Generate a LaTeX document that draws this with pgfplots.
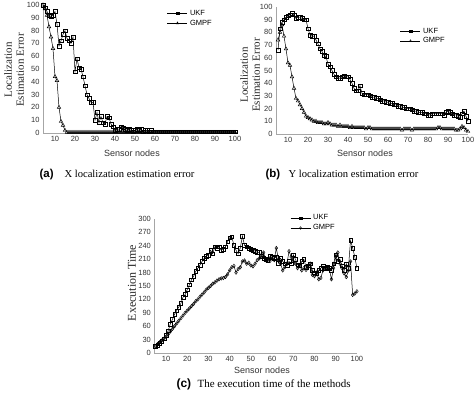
\documentclass[border=0pt]{standalone}
\usepackage{pgfplots}
\pgfplotsset{compat=1.18}
\usepackage{fontspec}
\setmainfont{Liberation Serif}
\setsansfont{Liberation Sans}
\pgfplotsset{
  panel/.style={
    scale only axis, clip=false,
    axis x line*=bottom, axis y line*=left,
    axis line style={black!35, -},
    major tick length=0pt,
    tick label style={font=\sffamily\fontsize{7.5}{8}\selectfont, text=black!80},
    /pgf/number format/assume math mode=true,
    xtick={10,20,...,100},
    legend style={draw=none, fill=none, inner sep=0pt, font=\sffamily\fontsize{7.5}{8}\selectfont, row sep=0pt,
      nodes={inner sep=1.6pt}},
    legend cell align=left,
    legend image code/.code={\path[draw=none, fill=none] (0pt,-3pt) rectangle (21pt,3pt); \draw[#1, mark=none] (0pt,0pt) -- (20pt,0pt); \draw[#1, mark size=1.3pt] plot[only marks] coordinates {(10pt,0pt)};},
  },
  ukf/.style={black, line width=0.5pt, mark=square, mark size=1.8pt, mark options={fill=white, line width=0.45pt}},
  gmpf/.style={black, line width=0.5pt, mark=triangle, mark size=2.1pt, mark options={fill=white, line width=0.45pt}},
  gmpfc/.style={black, line width=0.5pt, mark=diamond, mark size=1.8pt, mark options={fill=white, line width=0.45pt}},
}
\begin{document}
\begin{tikzpicture}[x=1pt,y=1pt]
\path[use as bounding box] (0,0) rectangle (474,395);
% ---------- (a)
\begin{axis}[panel, at={(43pt,262pt)}, anchor=south west, width=192pt, height=128pt,
  xmin=4, xmax=100, ymin=0, ymax=100, ytick={0,10,...,100},
  legend style={at={(0.646,0.975)}, anchor=north west}]
\addplot[ukf] coordinates {(4,100)(5,98)(6,95)(7,92)(8,91)(9,92)(10,95)(11,85)(12,68)(13,72)(14,77)(15,80)(16,74)(17,72)(18,70)(19,75)(20,48)(21,58)(22,51)(23,50)(24,44)(25,37)(26,30)(27,27)(28,24)(29,24)(30,10)(31,16)(32,8)(33,13)(34,8)(35,7)(36,13)(37,12)(38,7)(39,5)(40,2)(41,3)(42,3)(43,5)(44,4)(45,3)(46,2)(47,3)(48,2)(49,1)(50,2)(51,3)(52,2)(53,3)(54,1)(55,2)(56,2)(57,1)(58,2)(59,1)(60,1)(61,1)(62,1)(63,1)(64,1)(65,1)(66,1)(67,1)(68,1)(69,1)(70,1)(71,1)(72,1)(73,1)(74,1)(75,1)(76,1)(77,1)(78,1)(79,1)(80,1)(81,1)(82,1)(83,1)(84,1)(85,1)(86,1)(87,1)(88,1)(89,1)(90,1)(91,1)(92,1)(93,1)(94,1)(95,1)(96,1)(97,1)(98,1)(99,1)(100,1)};
\addlegendentry{UKF}
\addplot[gmpf] coordinates {(4,100)(5,97)(6,92)(7,83)(8,75)(9,66)(10,44)(11,41)(12,20)(13,9)(14,6)(15,2)(16,0.5)(17,0.5)(18,0.5)(19,0.5)(20,0.5)(21,0.5)(22,0.5)(23,0.5)(24,0.5)(25,0.5)(26,0.5)(27,0.5)(28,0.5)(29,0.5)(30,0.5)(31,0.5)(32,0.5)(33,0.5)(34,0.5)(35,0.5)(36,0.5)(37,0.5)(38,0.5)(39,0.5)(40,0.5)(41,0.5)(42,0.5)(43,0.5)(44,0.5)(45,0.5)(46,0.5)(47,0.5)(48,0.5)(49,0.5)(50,0.5)(51,0.5)(52,0.5)(53,0.5)(54,0.5)(55,0.5)(56,0.5)(57,0.5)(58,0.5)(59,0.5)(60,0.5)(61,0.5)(62,0.5)(63,0.5)(64,0.5)(65,0.5)(66,0.5)(67,0.5)(68,0.5)(69,0.5)(70,0.5)(71,0.5)(72,0.5)(73,0.5)(74,0.5)(75,0.5)(76,0.5)(77,0.5)(78,0.5)(79,0.5)(80,0.5)(81,0.5)(82,0.5)(83,0.5)(84,0.5)(85,0.5)(86,0.5)(87,0.5)(88,0.5)(89,0.5)(90,0.5)(91,0.5)(92,0.5)(93,0.5)(94,0.5)(95,0.5)(96,0.5)(97,0.5)(98,0.5)(99,0.5)(100,0.5)};
\addlegendentry{GMPF}
\end{axis}
% ---------- (b)
\begin{axis}[panel, at={(276pt,261pt)}, anchor=south west, width=192pt, height=127pt,
  xmin=4, xmax=100, ymin=0, ymax=100, ytick={0,10,...,100},
  legend style={at={(0.646,0.85)}, anchor=north west}]
\addplot[ukf] coordinates {(5,66)(6,83)(7,88)(8,90)(9,92)(10,93)(11,94)(12,95)(13,94)(14,91)(15,92)(16,92)(17,91)(18,90)(19,90)(20,83)(21,78)(22,77)(23,77)(24,74)(25,71)(26,67)(27,65)(28,62)(29,61)(30,55)(31,53)(32,50)(33,47)(34,45)(35,44)(36,44)(37,45)(38,46)(39,45)(40,45)(41,43)(42,40)(43,36)(44,34)(45,34)(46,38)(47,32)(48,31)(49,31)(50,31)(51,30)(52,29)(53,29)(54,28)(55,28)(56,27)(57,26)(58,26)(59,25)(60,25)(61,24)(62,24)(63,23)(64,23)(65,22)(66,22)(67,21)(68,21)(69,20)(70,20)(71,20)(72,19)(73,18)(74,18)(75,17)(76,17)(77,17)(78,16)(79,16)(80,15)(81,15)(82,16)(83,16)(84,16)(85,16)(86,16)(87,16)(88,15)(89,17)(90,18)(91,17)(92,16)(93,15)(94,15)(95,14)(96,13)(97,16)(98,18)(99,14)(100,10)};
\addlegendentry{UKF}
\addplot[gmpf] coordinates {(5,74)(6,80)(7,86)(8,77)(9,67)(10,56)(11,54)(12,45)(13,36)(14,28)(15,26)(16,23)(17,20)(18,17)(19,14)(20,13)(21,12)(22,11)(23,10)(24,10)(25,9)(26,9)(27,9)(28,8)(29,8)(30,9)(31,8)(32,7)(33,7)(34,7)(35,6)(36,7)(37,6)(38,6)(39,6)(40,6)(41,5)(42,6)(43,5)(44,5)(45,5)(46,5)(47,5)(48,5)(49,4)(50,5)(51,5)(52,4)(53,4)(54,4)(55,4)(56,4)(57,4)(58,4)(59,4)(60,4)(61,4)(62,4)(63,4)(64,4)(65,4)(66,4)(67,3)(68,4)(69,4)(70,4)(71,4)(72,3)(73,4)(74,4)(75,4)(76,4)(77,4)(78,4)(79,4)(80,4)(81,4)(82,4)(83,4)(84,4)(85,5)(86,5)(87,4)(88,4)(89,4)(90,4)(91,4)(92,4)(93,4)(94,3)(95,3)(96,4)(97,6)(98,5)(99,3)(100,2)};
\addlegendentry{GMPF}
\end{axis}
% ---------- (c)
\begin{axis}[panel, at={(154.4pt,42pt)}, anchor=south west, width=202.5pt, height=134pt,
  xmin=4.5, xmax=100, ymin=0, ymax=300, ytick={0,30,...,300},
  legend style={at={(0.67,1.045)}, anchor=north west}]
\addplot[ukf] coordinates {(5,15)(6,18)(7,22)(8,27)(9,32)(10,40)(11,50)(12,65)(13,75)(14,87)(15,95)(16,103)(17,111)(18,125)(19,131)(20,142)(21,153)(22,164)(23,172)(24,183)(25,190)(26,197)(27,205)(28,212)(29,216)(30,219)(31,230)(32,222)(33,238)(34,235)(35,238)(36,230)(37,232)(38,238)(39,249)(40,258)(41,260)(42,241)(43,230)(44,222)(45,235)(46,262)(47,241)(48,238)(49,234)(50,232)(51,230)(52,228)(53,225)(54,225)(55,216)(56,212)(57,210)(58,208)(59,216)(60,214)(61,212)(62,215)(63,201)(64,212)(65,205)(66,200)(67,195)(68,205)(69,200)(70,220)(71,210)(72,198)(73,195)(74,205)(75,210)(76,192)(77,195)(78,200)(79,185)(80,180)(81,178)(82,185)(83,190)(84,195)(85,190)(86,192)(87,190)(88,185)(89,200)(90,220)(91,205)(92,210)(93,195)(94,185)(95,200)(96,190)(97,252)(98,235)(99,215)(100,190)};
\addlegendentry{UKF}
\addplot[gmpfc] coordinates {(5,15)(6,20)(7,24)(8,28)(9,32)(10,36)(11,42)(12,48)(13,54)(14,60)(15,66)(16,72)(17,78)(18,84)(19,90)(20,95)(21,100)(22,105)(23,110)(24,116)(25,120)(26,126)(27,131)(28,136)(29,142)(30,146)(31,150)(32,155)(33,158)(34,162)(35,165)(36,167)(37,168)(38,170)(39,176)(40,185)(41,192)(42,195)(43,180)(44,188)(45,192)(46,205)(47,207)(48,200)(49,202)(50,196)(51,194)(52,200)(53,208)(54,212)(55,216)(56,225)(57,208)(58,210)(59,206)(60,212)(61,208)(62,235)(63,210)(64,200)(65,185)(66,192)(67,200)(68,228)(69,215)(70,205)(71,200)(72,190)(73,197)(74,185)(75,190)(76,186)(77,192)(78,200)(79,175)(80,172)(81,180)(82,165)(83,168)(84,185)(85,190)(86,192)(87,188)(88,165)(89,190)(90,215)(91,225)(92,200)(93,190)(94,178)(95,170)(96,185)(97,205)(98,130)(99,133)(100,138)};
\addlegendentry{GMPF}
\end{axis}
% ---------- labels
\node[font=\sffamily\fontsize{9}{10}\selectfont, text=black!80] at (132,242) {Sensor nodes};
\node[font=\sffamily\fontsize{9}{10}\selectfont, text=black!80] at (365,242) {Sensor nodes};
\node[font=\sffamily\fontsize{9}{10}\selectfont, text=black!80] at (262,25) {Sensor nodes};
\node[rotate=90, font=\fontsize{11}{12}\selectfont, align=center, text=black!85] at (14,325) {Localization\\Estimation Error};
\node[rotate=90, font=\fontsize{11}{12}\selectfont, align=center, text=black!85] at (250,320) {Localization\\Estimation Error};
\node[rotate=90, font=\fontsize{12}{13}\selectfont, text=black!85] at (132,112) {Execution Time};
% captions
\node[anchor=base west, font=\sffamily\bfseries\fontsize{11.5}{12}\selectfont] at (36,217.5) {(a)};
\node[anchor=base west, font=\fontsize{10.6}{12}\selectfont] at (61,217.5) {X localization estimation error};
\node[anchor=base west, font=\sffamily\bfseries\fontsize{11.5}{12}\selectfont] at (262,217.5) {(b)};
\node[anchor=base west, font=\fontsize{10.6}{12}\selectfont] at (285,217.5) {Y localization estimation error};
\node[anchor=base west, font=\sffamily\bfseries\fontsize{12}{12}\selectfont] at (173,7) {(c)};
\node[anchor=base west, font=\fontsize{11}{12}\selectfont] at (194,7) {The execution time of the methods};
\end{tikzpicture}
\end{document}
